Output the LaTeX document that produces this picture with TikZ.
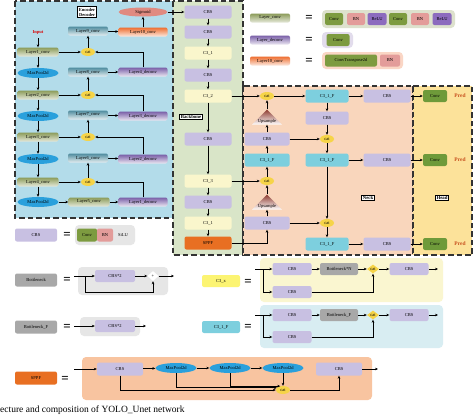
\documentclass[tikz,border=0pt]{standalone}
\usepackage{fontspec}
\setmainfont{Liberation Serif}
\usetikzlibrary{arrows.meta,shapes.geometric,calc}
\newcommand\tinyf{\fontsize{4.5}{5}\selectfont}
\newcommand\labf{\fontsize{4.8}{5.4}\selectfont\bfseries}
\definecolor{encbg}{HTML}{B3DCEA}
\definecolor{bbbg}{HTML}{D9E5C8}
\definecolor{neckbg}{HTML}{F9D6BC}
\definecolor{headbg}{HTML}{FCE29A}
\definecolor{cgreen}{HTML}{8C9C5A}
\definecolor{cteal}{HTML}{4F8C9E}
\definecolor{cpurp}{HTML}{7A60A8}
\definecolor{corng}{HTML}{EE6E30}
\definecolor{mpblue}{HTML}{2AA0DC}
\definecolor{catyel}{HTML}{F6D448}
\definecolor{cbsc}{HTML}{C8C0E2}
\definecolor{c3y}{HTML}{FAF6CC}
\definecolor{c3f}{HTML}{7DCFDE}
\definecolor{sppfc}{HTML}{E86F22}
\definecolor{hconv}{HTML}{6E9A3A}
\definecolor{predc}{HTML}{C8501E}
\definecolor{lconv}{HTML}{7D9B40}
\definecolor{lbn}{HTML}{E39C9A}
\definecolor{lrelu}{HTML}{8C6BBE}
\definecolor{bneck}{HTML}{A8A8A8}
\definecolor{gbox}{HTML}{E6E6E6}
\definecolor{ygrp}{HTML}{FAF6D0}
\definecolor{cgrp}{HTML}{D8EDF2}
\definecolor{ogrp}{HTML}{F8C4A0}
\definecolor{sigc}{HTML}{E08A80}
\definecolor{upc}{HTML}{8E3B30}
\begin{document}
\begin{tikzpicture}[x=1pt,y=-1pt,
  box/.style={rounded corners=2pt, minimum height=9pt, inner sep=0pt, font=\tinyf},
  gconv/.style={box, minimum width=41pt, top color=cgreen, bottom color=cgreen!22},
  tconv/.style={box, minimum width=40pt, top color=cteal, bottom color=cteal!15},
  pdeconv/.style={box, minimum width=49pt, top color=cpurp, bottom color=cpurp!15},
  oconv/.style={box, minimum width=49pt, top color=corng, bottom color=corng!15},
  mp/.style={ellipse, fill=mpblue, minimum width=41pt, minimum height=10pt, inner sep=0pt, font=\tinyf},
  catn/.style={ellipse, fill=catyel, minimum width=14pt, minimum height=8pt, inner sep=0pt, font=\tinyf},
  cbsn/.style={box, fill=cbsc, minimum width=47pt, minimum height=13pt},
  c3n/.style={box, fill=c3y, minimum width=47pt, minimum height=13pt},
  c3fn/.style={box, fill=c3f, minimum width=45pt, minimum height=13pt},
  sppfn/.style={box, fill=sppfc, minimum width=47pt, minimum height=13pt},
  hconvn/.style={box, fill=hconv, minimum width=24pt, minimum height=12pt},
  small/.style={box, minimum height=12pt},
  ups/.style={minimum width=30pt, minimum height=15pt, inner sep=0pt,
    path picture={\shade[top color=upc, bottom color=white]
      (path picture bounding box.north) -- (path picture bounding box.south east)
      -- (path picture bounding box.south west) -- cycle;}},
  labbox/.style={draw=black, line width=1pt, fill=white, inner sep=1.3pt, font=\labf},
  region/.style={dash pattern=on 5.5pt off 3pt, line width=1.3pt, draw=black!80},
  arr/.style={-{Stealth[length=3pt,width=2.6pt]}, line width=0.75pt},
  eqn/.style={font=\fontsize{13}{13}\selectfont\bfseries, inner sep=0pt},
  predn/.style={font=\fontsize{5.5}{5.5}\selectfont\bfseries, text=predc},
  grp/.style={rounded corners=4pt}
]
\useasboundingbox (0,0) rectangle (474,416);
\fill[white] (0,0) rectangle (474,416);

% ---------------- regions
\draw[region, fill=encbg] (15,1) rectangle (173,218);
\draw[region, fill=bbbg] (173,1) rectangle (243,255);
\draw[region, fill=neckbg] (243,86) rectangle (413,255);
\draw[region, fill=headbg] (413,86) rectangle (472,255);

% ---------------- encoder / decoder
\node[labbox, align=center, font=\fontsize{4.5}{5}\selectfont\bfseries] (encdec) at (87,12) {Encoder\\Decoder};
\node[ellipse, fill=sigc, minimum width=49pt, minimum height=9pt, inner sep=0pt, font=\tinyf] (sig) at (143,12) {Sigmoid};
\node[font=\fontsize{4.5}{4.5}\selectfont\bfseries, text=red!85!black] (inp) at (38,33) {Input};
\node[gconv] (L1) at (38,52) {Layer1\_conv};
\node[mp] (mp1) at (38,73) {MaxPool2d};
\node[gconv] (L2) at (38,95) {Layer2\_conv};
\node[mp] (mp2) at (38,116) {MaxPool2d};
\node[gconv] (L3) at (38,137) {Layer3\_conv};
\node[mp] (mp3) at (38,159) {MaxPool2d};
\node[gconv] (L4) at (38,182) {Layer4\_conv};
\node[mp] (mp4) at (38,202) {MaxPool2d};

\node[tconv] (L9) at (88,31) {Layer9\_conv};
\node[catn] (cat1) at (88,52) {cat};
\node[tconv] (L8) at (88,72) {Layer8\_conv};
\node[catn] (cat2) at (88,95) {cat};
\node[tconv] (L7) at (88,115) {Layer7\_conv};
\node[catn] (cat3) at (88,137) {cat};
\node[tconv] (L6) at (88,158) {Layer6\_conv};
\node[catn] (cat4) at (88,182) {cat};
\node[gconv] (L5) at (89,202) {Layer5\_conv};

\node[oconv] (L10) at (143,32) {Layer10\_conv};
\node[pdeconv] (D4) at (143,72) {Layer4\_deconv};
\node[pdeconv] (D3) at (143,116) {Layer3\_deconv};
\node[pdeconv] (D2) at (143,159) {Layer2\_deconv};
\node[pdeconv] (D1) at (143,202) {Layer1\_deconv};

\draw[arr] (inp) -- (L1);
\draw[arr] (L1) -- (mp1);
\draw[arr] (mp1) -- (L2);
\draw[arr] (L2) -- (mp2);
\draw[arr] (mp2) -- (L3);
\draw[arr] (L3) -- (mp3);
\draw[arr] (mp3) -- (L4);
\draw[arr] (L4) -- (mp4);
\draw[arr] (mp4) -- (L5);
\draw[arr] (L5) -- (D1);
\draw[arr] (D1.north) |- (cat4.east);
\draw[arr] (L4) -- (cat4);
\draw[arr] (cat4) -- (L6);
\draw[arr] (L6) -- (D2);
\draw[arr] (D2.north) |- (cat3.east);
\draw[arr] (L3) -- (cat3);
\draw[arr] (cat3) -- (L7);
\draw[arr] (L7) -- (D3);
\draw[arr] (D3.north) |- (cat2.east);
\draw[arr] (L2) -- (cat2);
\draw[arr] (cat2) -- (L8);
\draw[arr] (L8) -- (D4);
\draw[arr] (D4.north) |- (cat1.east);
\draw[arr] (L1) -- (cat1);
\draw[arr] (cat1) -- (L9);
\draw[arr] (L9) -- (L10);
\draw[arr] (L10) -- (sig);

% ---------------- backbone
\node[cbsn] (B1) at (208,12) {CBS};
\node[cbsn] (B2) at (208,32) {CBS};
\node[c3n] (B3) at (208,53) {C3\_1};
\node[cbsn] (B4) at (208,75) {CBS};
\node[c3n] (B5) at (208,96) {C3\_2};
\node[cbsn] (B6) at (208,139) {CBS};
\node[c3n] (B7) at (208,181) {C3\_3};
\node[cbsn] (B8) at (208,202) {CBS};
\node[c3n] (B9) at (208,223) {C3\_1};
\node[sppfn] (B10) at (208,243) {SPPF};
\node[labbox] (bbl) at (191,117) {Backbone};
\draw[arr] (sig) -- (B1);
\foreach \a/\b in {B1/B2,B2/B3,B3/B4,B4/B5,B5/B6,B6/B7,B7/B8,B8/B9,B9/B10}
  \draw[arr] (\a) -- (\b);

% ---------------- neck
\node[catn] (nc1) at (267,96) {cat};
\node[ups] (nu1) at (267,117) {};
\node[font=\tinyf, inner sep=0pt] (nu1t) at ([yshift=3pt]nu1.south) {Upsample};
\node[cbsn, minimum width=45pt] (nb1) at (267,139) {CBS};
\node[c3fn] (nf1) at (267,160) {C3\_1\_F};
\node[catn] (nc2) at (267,181) {cat};
\node[ups] (nu2) at (267,202) {};
\node[font=\tinyf, inner sep=0pt] (nu2t) at ([yshift=3pt]nu2.south) {Upsample};
\node[cbsn, minimum width=45pt] (nb2) at (267,223) {CBS};

\node[c3fn, minimum width=43pt] (f1) at (327,96) {C3\_1\_F};
\node[cbsn, minimum width=43pt] (b2) at (327,118) {CBS};
\node[catn] (c3) at (327,139) {cat};
\node[c3fn, minimum width=43pt] (f2) at (327,160) {C3\_1\_F};
\node[catn] (c4) at (327,223) {cat};
\node[c3fn, minimum width=43pt] (f3) at (327,244) {C3\_1\_F};

\node[cbsn] (r1) at (387,96) {CBS};
\node[cbsn] (r2) at (387,160) {CBS};
\node[cbsn] (r3) at (387,244) {CBS};
\node[hconvn] (h1) at (435,96) {Conv};
\node[hconvn] (h2) at (435,160) {Conv};
\node[hconvn] (h3) at (435,244) {Conv};
\node[predn] (p1) at (460,96) {Pred};
\node[predn] (p2) at (460,160) {Pred};
\node[predn] (p3) at (460,244) {Pred};
\node[labbox] (neckl) at (368,198) {Neck};
\node[labbox] (headl) at (442,198) {Head};

\draw[arr] (B5) -- (nc1);
\draw[arr] (B7) -- (nc2);
\draw[arr] (B10.east) -| (nb2.south);
\draw[arr] (nb2) -- (nu2);
\draw[arr] (nu2) -- (nc2);
\draw[arr] (nc2) -- (nf1);
\draw[arr] (nf1) -- (nb1);
\draw[arr] (nb1) -- (nu1);
\draw[arr] (nu1) -- (nc1);
\draw[arr] (nb1) -- (c3);
\draw[arr] (nb2) -- (c4);
\draw[arr] (nc1) -- (f1);
\draw[arr] (f1) -- (b2);
\draw[arr] (b2) -- (c3);
\draw[arr] (c3) -- (f2);
\draw[arr] (f2) -- (c4);
\draw[arr] (c4) -- (f3);
\draw[arr] (f1) -- (r1);
\draw[arr] (f2) -- (r2);
\draw[arr] (f3) -- (r3);
\draw[arr] (r1) -- (h1);
\draw[arr] (r2) -- (h2);
\draw[arr] (r3) -- (h3);

% ---------------- top-right legend
\node[box, minimum width=40pt, top color=cgreen, bottom color=cgreen!22] (lgc) at (270,18) {Layer\_conv};
\node[box, minimum width=40pt, top color=cpurp, bottom color=cpurp!15] (lgd) at (270,40) {Layer\_deconv};
\node[box, minimum width=40pt, top color=corng, bottom color=corng!15] (lgt) at (270,61) {Layer10\_conv};
\node[eqn] (eq1) at (309,18) {=};
\node[eqn] (eq2) at (309,40) {=};
\node[eqn] (eq3) at (309,61) {=};
\fill[grp, fill=cgreen!30] (322,10) rectangle (455,28);
\fill[grp, fill=cpurp!22] (322,32) rectangle (353,48);
\fill[grp, fill=corng!28] (322,52) rectangle (403,69);
\node[small, fill=lconv, minimum width=18pt] (g1) at (334,19) {Conv};
\node[small, fill=lbn, minimum width=18pt] (g2) at (356,19) {BN};
\node[small, fill=lrelu, minimum width=19pt] (g3) at (377,19) {ReLU};
\node[small, fill=lconv, minimum width=18pt] (g4) at (398,19) {Conv};
\node[small, fill=lbn, minimum width=18pt] (g5) at (420,19) {BN};
\node[small, fill=lrelu, minimum width=19pt] (g6) at (442,19) {ReLU};
\node[small, fill=lconv, minimum width=23pt] (g7) at (338,40) {Conv};
\node[small, fill=lconv, minimum width=52pt] (g8) at (351,60.5) {ConvTranspose2d};
\node[small, fill=lbn, minimum width=20pt] (g9) at (390,60.5) {BN};

% ---------------- CBS legend
\node[cbsn, minimum width=42pt] (lcbs) at (36,235) {CBS};
\node[eqn] (eq4) at (67,235) {=};
\fill[grp, fill=gbox] (75,225) rectangle (135,245);
\node[small, fill=lconv, minimum width=20pt, minimum height=13pt] (k1) at (87,235) {Conv};
\node[small, fill=lbn, minimum width=16pt, minimum height=13pt] (k2) at (105,235) {BN};
\node[font=\tinyf, inner sep=0pt] (k3) at (123,235) {SiLU};

% ---------------- Bottleneck legend
\node[box, fill=bneck, minimum width=42pt, minimum height=13pt] (lbn1) at (36,280) {Bottleneck};
\node[eqn] (eq5) at (67,280) {=};
\fill[grp, fill=gbox] (78,267) rectangle (168,295);
\node[cbsn, minimum width=40pt, minimum height=12pt] (bc1) at (115,276) {CBS*2};
\node[diamond, fill=white, minimum width=11pt, minimum height=10pt, inner sep=0pt, font=\tinyf] (bp) at (153,276) {+};
\coordinate (bi) at (74,276);
\coordinate (bj) at (85,276);
\coordinate (bo) at (174,276);
\draw[arr] (bi) -- (bc1);
\draw[arr] (bc1) -- (bp);
\draw[arr] (bj) -- ++(0,16) -| (bp.south);
\draw[arr] (bp) -- (bo);

% ---------------- Bottleneck_F legend
\node[box, fill=bneck, minimum width=42pt, minimum height=13pt] (lbn2) at (36,327) {Bottleneck\_F};
\node[eqn] (eq6) at (67,327) {=};
\fill[grp, fill=gbox] (80,317) rectangle (140,336);
\node[cbsn, minimum width=40pt, minimum height=12pt] (bc2) at (115,326) {CBS*2};
\coordinate (fi) at (74,326);
\coordinate (fo) at (146,326);
\draw[arr] (fi) -- (bc2);
\draw[arr] (bc2) -- (fo);

% ---------------- C3_x legend
\node[c3n, fill=yellow!45!c3y, minimum width=38pt, minimum height=12pt] (lc3) at (221,281) {C3\_x};
\node[eqn] (eq7) at (248,282) {=};
\fill[grp, fill=ygrp] (260,258) rectangle (443,302);
\node[cbsn, minimum width=39pt, minimum height=12pt] (x1) at (292,269) {CBS};
\node[box, fill=bneck, minimum width=38pt, minimum height=12pt] (x2) at (339,269) {Bottleneck*N};
\node[catn, shape=diamond, minimum width=12pt, minimum height=9pt] (x3) at (373,269) {cat};
\node[cbsn, minimum width=39pt, minimum height=12pt] (x4) at (409,269) {CBS};
\node[cbsn, minimum width=39pt, minimum height=12pt] (x5) at (292,292) {CBS};
\coordinate (xi) at (255,269);
\coordinate (xj) at (263,269);
\coordinate (xo) at (438,269);
\draw[arr] (xi) -- (x1);
\draw[arr] (xj) |- (x5.west);
\draw[arr] (x1) -- (x2);
\draw[arr] (x2) -- (x3);
\draw[arr] (x3) -- (x4);
\draw[arr] (x5.east) -| (x3.south);
\draw[arr] (x4) -- (xo);

% ---------------- C3_1_F legend
\node[c3fn, minimum width=38pt, minimum height=12pt] (lc3f) at (221,327) {C3\_1\_F};
\node[eqn] (eq8) at (248,327) {=};
\fill[grp, fill=cgrp] (260,305) rectangle (443,348);
\node[cbsn, minimum width=39pt, minimum height=12pt] (y1) at (292,315) {CBS};
\node[box, fill=bneck, minimum width=38pt, minimum height=12pt] (y2) at (339,315) {Bottleneck\_F};
\node[catn, shape=diamond, minimum width=12pt, minimum height=9pt] (y3) at (373,315) {cat};
\node[cbsn, minimum width=39pt, minimum height=12pt] (y4) at (409,315) {CBS};
\node[cbsn, minimum width=39pt, minimum height=12pt] (y5) at (292,337) {CBS};
\coordinate (yi) at (255,315);
\coordinate (yj) at (263,315);
\coordinate (yo) at (438,315);
\draw[arr] (yi) -- (y1);
\draw[arr] (yj) |- (y5.west);
\draw[arr] (y1) -- (y2);
\draw[arr] (y2) -- (y3);
\draw[arr] (y3) -- (y4);
\draw[arr] (y5.east) -| (y3.south);
\draw[arr] (y4) -- (yo);

% ---------------- SPPF legend
\node[sppfn, minimum width=42pt] (lsp) at (36,378) {SPPF};
\node[eqn] (eq9) at (65,379) {=};
\fill[grp, fill=ogrp] (82,357) rectangle (372,400);
\node[cbsn, minimum width=46pt] (s1) at (120,369) {CBS};
\node[mp] (sm1) at (176,368) {MaxPool2d};
\node[mp] (sm2) at (230,368) {MaxPool2d};
\node[mp] (sm3) at (283,368) {MaxPool2d};
\node[catn] (sc) at (283,390) {cat};
\node[cbsn, minimum width=46pt] (s2) at (339,369) {CBS};
\coordinate (si) at (74,369);
\coordinate (so) at (378,369);
\draw[arr] (si) -- (s1);
\draw[arr] (s1) -- (sm1);
\draw[arr] (sm1) -- (sm2);
\draw[arr] (sm2) -- (sm3);
\draw[arr] (sm3) -- (sc);
\draw[arr] (s1.south) |- (sc.west);
\draw[arr] (sm1.south) |- (sc.160);
\draw[arr] (sm2.south) |- (sc.125);
\draw[arr] (sc.east) -| (s2.south);
\draw[arr] (s2) -- (so);

% ---------------- caption
\node[anchor=west, font=\fontsize{9.5}{10}\selectfont, inner sep=0pt] (cap) at (0,410) {ecture and composition of YOLO\_Unet network};
\end{tikzpicture}
\end{document}
